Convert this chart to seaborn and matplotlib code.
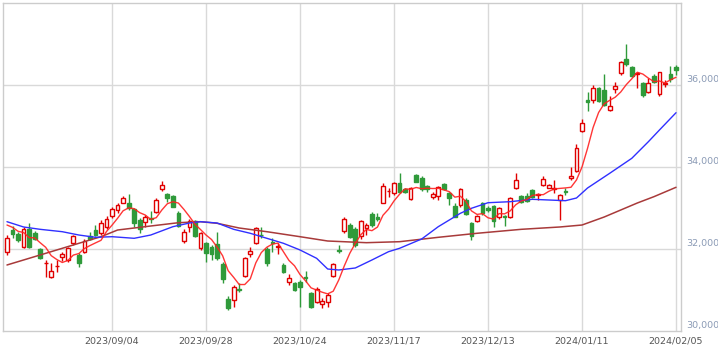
import numpy as np
import pandas as pd
import matplotlib
matplotlib.use("Agg")
import matplotlib.pyplot as plt
import seaborn as sns

# ---------------- data ----------------
opens = [31927, 32463, 32366, 32041, 32480, 32383, 31993, 31650, 31325, 31575,
         31805, 31732, 32139, 31854, 31935, 32317, 32463, 32390, 32537, 32813,
         32951, 33134, 33134, 32966, 32707, 32650, 32764, 32910, 33456, 33333,
         33293, 32886, 32203, 32537, 32674, 32033, 32138, 32041, 32122, 31634,
         30773, 30756, 31025, 31342, 31870, 32139, 32350, 31993, 32170, 32060,
         31610, 31187, 31178, 31187, 31310, 30920, 30716, 30659, 30699, 31341,
         31965, 32440, 32585, 32480, 32317, 32504, 32854, 32789, 33130, 33410,
         33366, 33600, 33463, 33220, 33805, 33724, 33537, 33276, 33293, 33578,
         33358, 33049, 33073, 33195, 32627, 32683, 33114, 33010, 33049, 32773,
         32805, 32789, 33476, 33293, 33293, 33439, 33325, 33553, 33495, 33470,
         33195, 33410, 33724, 33910, 34878, 35634, 35634, 35934, 35878, 35380,
         35910, 36303, 36634, 36447, 36275, 36041, 35821, 36228, 35773, 36035,
         36268, 36431]
highs = [32341, 32561, 32420, 32529, 32626, 32447, 32017, 31732, 31651, 31732,
         31934, 32057, 32341, 31895, 32236, 32420, 32585, 32699, 32797, 33029,
         33122, 33300, 33341, 32990, 32748, 32829, 32918, 33251, 33659, 33374,
         33317, 32934, 32480, 32723, 32707, 32423, 32179, 32098, 32423, 31690,
         30861, 31122, 31160, 31813, 32057, 32545, 32545, 32057, 32260, 32140,
         31650, 31390, 31203, 31244, 31471, 30960, 31065, 30797, 30918, 31650,
         32098, 32772, 32626, 32529, 32707, 32626, 32911, 32870, 33600, 33480,
         33640, 33860, 33500, 33520, 33830, 33780, 33561, 33398, 33537, 33600,
         33398, 33114, 33497, 33236, 32667, 32829, 33155, 33050, 33073, 33033,
         32822, 33260, 33846, 33317, 33358, 33456, 33358, 33780, 33585, 33683,
         33341, 33480, 34007, 34561, 35160, 35837, 36000, 35959, 36260, 35732,
         36081, 36585, 36993, 36472, 36325, 36081, 36179, 36268, 36325, 36122,
         36463, 36488]
lows = [31854, 32268, 32180, 32017, 32017, 32220, 31749, 31325, 31293, 31447,
        31707, 31691, 32098, 31569, 31895, 32220, 32317, 32341, 32480, 32748,
        32878, 33110, 32951, 32537, 32399, 32537, 32634, 32886, 33422, 33154,
        33017, 32537, 32155, 32407, 32293, 31976, 31690, 31732, 31732, 31161,
        30512, 30578, 30960, 31309, 31813, 32114, 32260, 31585, 31930, 31890,
        31422, 31114, 30983, 30578, 31203, 30553, 30675, 30569, 30594, 31309,
        31894, 32399, 32260, 32057, 32236, 32341, 32545, 32690, 33122, 33276,
        33317, 33360, 33360, 33195, 33625, 33422, 33398, 33220, 33195, 33440,
        33073, 32773, 33033, 32829, 32220, 32659, 32829, 32910, 32545, 32723,
        32561, 32748, 33456, 33114, 33155, 33236, 33195, 33537, 33480, 33358,
        32707, 33317, 33683, 33870, 34860, 35374, 35568, 35593, 35488, 35366,
        35797, 36245, 36474, 36203, 35919, 35700, 35797, 36041, 35732, 35943,
        36081, 36244]
closes = [32268, 32366, 32220, 32480, 32058, 32236, 31773, 31660, 31463, 31590,
          31870, 32017, 32317, 31651, 32195, 32236, 32341, 32634, 32732, 32966,
          33073, 33256, 32988, 32634, 32480, 32789, 32724, 33195, 33561, 33252,
          33033, 32561, 32423, 32690, 32317, 32382, 31894, 31870, 31773, 31261,
          30553, 31081, 31000, 31773, 31951, 32504, 32341, 31651, 32150, 32073,
          31447, 31285, 31000, 31081, 31300, 30594, 31016, 30740, 30878, 31626,
          31955, 32732, 32285, 32098, 32683, 32585, 32585, 32724, 33537, 33420,
          33600, 33398, 33383, 33480, 33641, 33456, 33456, 33341, 33504, 33456,
          33236, 32789, 33455, 32854, 32317, 32805, 32878, 32951, 32691, 32992,
          32773, 33236, 33695, 33155, 33179, 33260, 33333, 33700, 33561, 33480,
          33317, 33390, 33780, 34456, 35063, 35593, 35918, 35618, 35512, 35488,
          35976, 36553, 36512, 36228, 36285, 35756, 36057, 36081, 36309, 36045,
          36138, 36366]
# closes of the four sessions before the first bar (for the 5-day average)
prior_closes = [32650, 32700, 32630, 32677]

# 25-day and 75-day moving averages (bar number, value)
ma25_bar = [0, 3, 6, 10, 13, 16, 19, 23, 26, 30, 33, 35, 38, 41, 44, 47, 50, 53,
            56, 58, 60, 63, 66, 69, 71, 75, 78, 82, 84, 87, 91, 95, 101, 103,
            105, 109, 113, 116, 118, 121]
ma25_val = [32666, 32537, 32480, 32422, 32341, 32285, 32300, 32261, 32341, 32544,
            32634, 32666, 32634, 32480, 32383, 32261, 32139, 31976, 31773, 31512,
            31488, 31537, 31732, 31934, 32017, 32244, 32544, 32871, 32993, 33129,
            33154, 33212, 33178, 33244, 33488, 33846, 34212, 34617, 34902, 35324]
ma75_bar = [0, 6, 13, 17, 20, 26, 31, 35, 38, 42, 47, 53, 58, 65, 71, 78, 85,
            93, 100, 104, 108, 111, 114, 117, 121]
ma75_val = [31610, 31854, 32139, 32300, 32463, 32561, 32641, 32666, 32627, 32512,
            32422, 32300, 32195, 32154, 32178, 32285, 32383, 32480, 32537, 32585,
            32780, 32951, 33122, 33276, 33505]

holidays = ["2023-08-11", "2023-09-18", "2023-10-09", "2023-11-03", "2023-11-23",
            "2024-01-01", "2024-01-02", "2024-01-03", "2024-01-08"]
tick_labels = ["2023/09/04", "2023/09/28", "2023/10/24", "2023/11/17",
               "2023/12/13", "2024/01/11", "2024/02/05"]
y_ticks = [30000, 32000, 34000, 36000]

# ---------------- derived ----------------
dates = pd.bdate_range("2023-08-07", "2024-02-05")
dates = dates[~dates.isin(pd.to_datetime(holidays))]
n = len(closes)
dates = dates[:n]
x = np.arange(n)
o = np.array(opens, float); h = np.array(highs, float)
l = np.array(lows, float); c = np.array(closes, float)
all_c = pd.Series(prior_closes + closes, dtype=float)
ma5 = all_c.rolling(5).mean().to_numpy()[len(prior_closes):]

labels = dates.strftime("%Y/%m/%d")
tick_pos = [int(np.where(labels == t)[0][0]) for t in tick_labels]

# ---------------- plot ----------------
sns.set_style("white")
fig = plt.figure(figsize=(7.18, 3.52), dpi=100)
ax = fig.add_axes([3 / 718, 21 / 352, 678 / 718, 328 / 352])

grid_c = "#d9d9d9"
for v in y_ticks[1:]:
    ax.axhline(v, color=grid_c, lw=1, zorder=0)
for p in tick_pos:
    ax.axvline(p, color=grid_c, lw=1, zorder=0)

up = c >= o
red = "#e00000"
green = "#2f9a3a"
wick_col = np.where(up, red, green)
ax.vlines(x, l, h, colors=list(wick_col), lw=1, zorder=2)
body_bottom = np.minimum(o, c)
body_h = np.maximum(np.abs(c - o), 6)
ax.bar(x[up], body_h[up], bottom=body_bottom[up], width=0.68,
       facecolor="white", edgecolor=red, linewidth=1, zorder=3)
ax.bar(x[~up], body_h[~up], bottom=body_bottom[~up], width=0.68,
       facecolor=green, edgecolor=green, linewidth=1, zorder=3)

sns.lineplot(x=ma75_bar, y=ma75_val, color="#a83a3a", lw=1.1, ax=ax, zorder=4)
sns.lineplot(x=ma25_bar, y=ma25_val, color="#3030ff", lw=1.0, ax=ax, zorder=4)
sns.lineplot(x=x, y=ma5, color="#ff2020", lw=1.0, alpha=0.9, ax=ax, zorder=5)

ax.set_xlim(-0.72, 121.9)
ax.set_ylim(30000, 38000)
ax.set_xticks(tick_pos)
ax.set_xticklabels(tick_labels, fontsize=6.8, color="#555555")
ax.set_yticks([])
ax.tick_params(axis="x", length=0, pad=4)
ax.set_xlabel("")
ax.set_ylabel("")
for s in ax.spines.values():
    s.set_color("#cccccc")
    s.set_linewidth(1)

ytr = ax.get_yaxis_transform()
for v in y_ticks:
    ax.text(1.007, v + 70, f"{v:,}", transform=ytr, ha="left", va="baseline",
            fontsize=6.8, color="#8a9ab5", clip_on=False)

fig.savefig("out.png", dpi=100)
